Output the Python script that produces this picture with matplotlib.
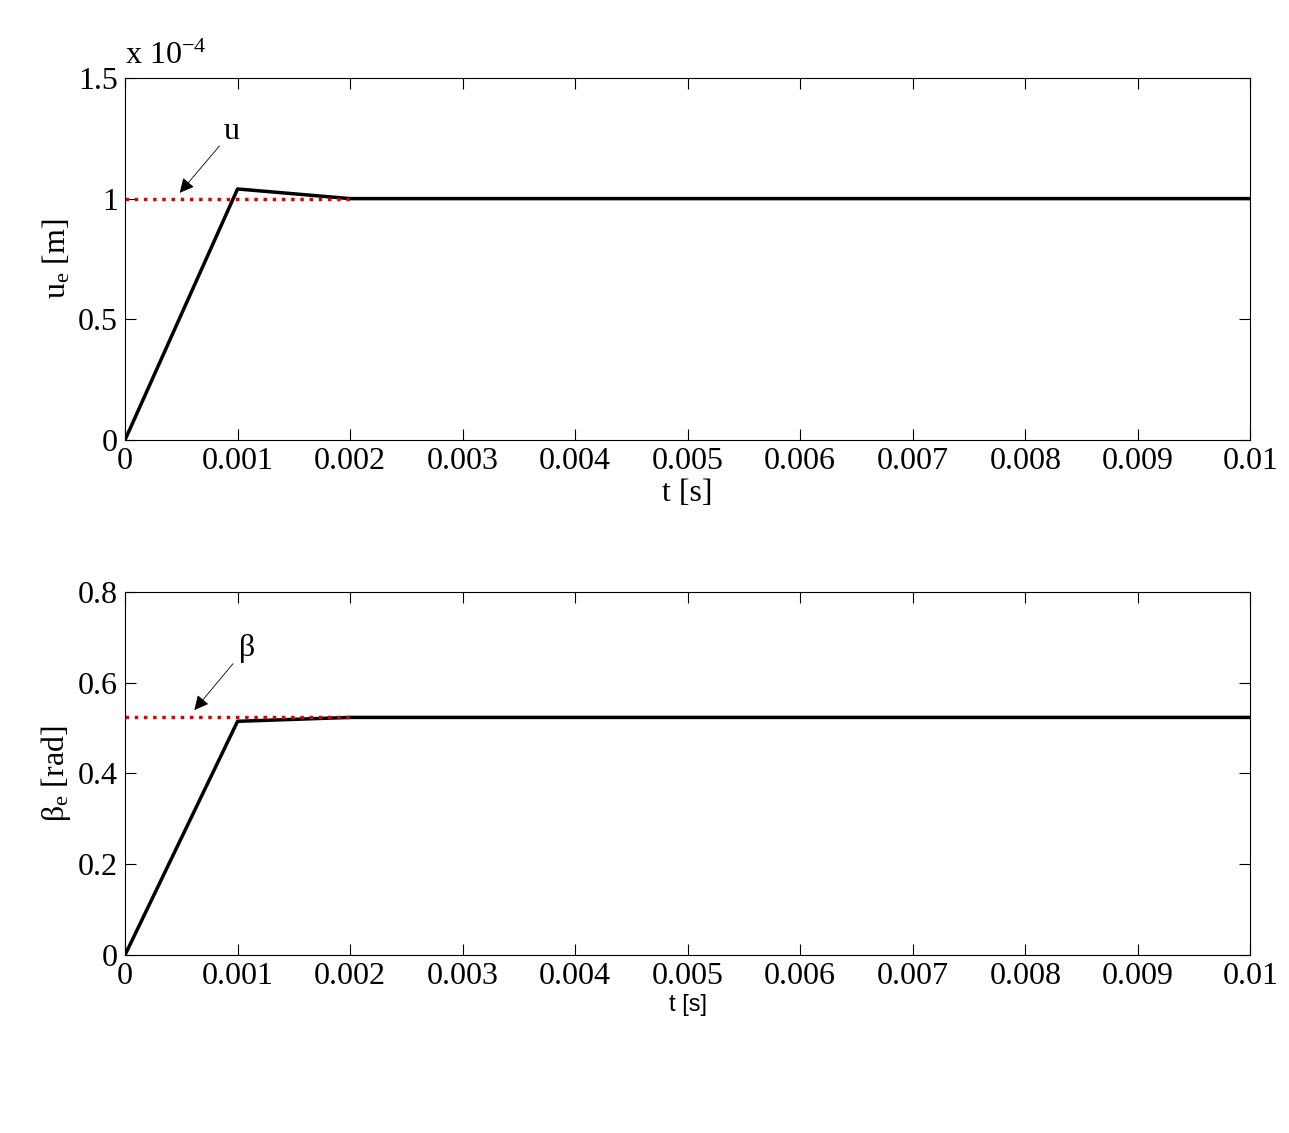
import matplotlib
matplotlib.use("Agg")
import matplotlib.pyplot as plt

plt.rcParams['font.family'] = ['Liberation Serif', 'DejaVu Serif']
plt.rcParams['mathtext.fontset'] = 'custom'
plt.rcParams['mathtext.rm'] = 'Liberation Serif'
plt.rcParams['mathtext.it'] = 'Liberation Serif'

t = [0, 0.001, 0.002, 0.01]
u_e = [0, 1.04, 1.0, 1.0]          # x 1e-4
u_ref_t = [0, 0.002]
u_ref = [1.0, 1.0]
beta_e = [0, 0.515, 0.5236, 0.5236]
beta_ref_t = [0, 0.002]
beta_ref = [0.5236, 0.5236]
xticks = [0, 0.001, 0.002, 0.003, 0.004, 0.005, 0.006, 0.007, 0.008, 0.009, 0.01]
xticklabels = ['0', '0.001', '0.002', '0.003', '0.004', '0.005', '0.006', '0.007', '0.008', '0.009', '0.01']

fs = 23
fig = plt.figure(figsize=(12.89, 11.33), dpi=100)
ax1 = fig.add_axes([0.097, 0.6117, 0.873, 0.3195])
ax2 = fig.add_axes([0.097, 0.1571, 0.873, 0.3204])

for ax in (ax1, ax2):
    ax.set_xlim(0, 0.01)
    ax.set_xticks(xticks)
    ax.set_xticklabels(xticklabels)
    ax.tick_params(direction='in', top=True, right=True, labelsize=fs, length=8, pad=5)

ax1.plot(t, u_e, color='black', lw=2.5)
ax1.plot(u_ref_t, u_ref, color='#dd0000', lw=2.5, ls=':')
ax1.set_ylim(0, 1.5)
ax1.set_yticks([0, 0.5, 1, 1.5])
ax1.set_yticklabels(['0', '0.5', '1', '1.5'])
ax1.set_xlabel('t [s]', fontsize=fs, labelpad=2)
ax1.set_ylabel(r'u$_\mathrm{e}$ [m]', fontsize=fs)
ax1.text(0, 1.53, r'x 10$^{\mathrm{-4}}$', fontsize=fs, va='bottom')
ax1.annotate('u', xy=(0.00047, 1.015), xytext=(0.00088, 1.22), fontsize=fs,
             ha='left', va='bottom',
             arrowprops=dict(arrowstyle='-|>', color='black', lw=0.6, mutation_scale=22))

ax2.plot(t, beta_e, color='black', lw=2.5)
ax2.plot(beta_ref_t, beta_ref, color='#dd0000', lw=2.5, ls=':')
ax2.set_ylim(0, 0.8)
ax2.set_yticks([0, 0.2, 0.4, 0.6, 0.8])
ax2.set_yticklabels(['0', '0.2', '0.4', '0.6', '0.8'])
ax2.set_xlabel('t [s]', fontsize=17, family=['Liberation Sans'], labelpad=2)
ax2.set_ylabel(r'$\beta_\mathrm{e}$ [rad]', fontsize=fs)
ax2.annotate(r'$\beta$', xy=(0.0006, 0.535), xytext=(0.001, 0.64), fontsize=fs,
             ha='left', va='bottom',
             arrowprops=dict(arrowstyle='-|>', color='black', lw=0.6, mutation_scale=22))

fig.savefig('out.png', dpi=100)
